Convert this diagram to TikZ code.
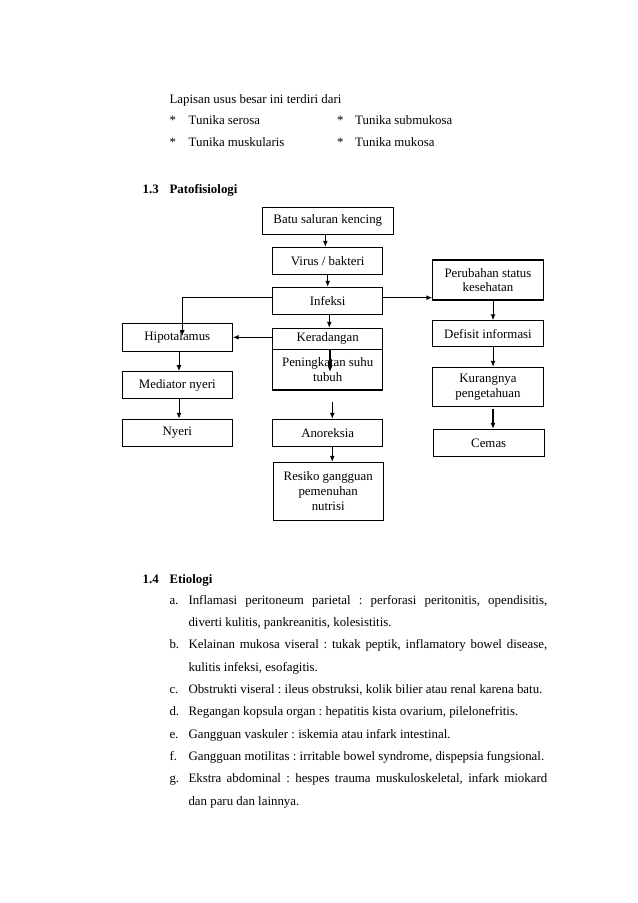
\documentclass[tikz,border=0pt]{standalone}
\usepackage{fontspec}
\setmainfont{Liberation Serif}
\usetikzlibrary{arrows.meta}
\frenchspacing
\begin{document}
\begin{tikzpicture}[x=0.9323pt,y=-0.9323pt,
  font=\fontsize{12}{13.8}\selectfont\frenchspacing,
  box/.style={draw, line width=0.95pt, inner sep=0pt, align=center, minimum width=102.6pt},
  arr/.style={-{Latex[length=5.5pt,width=4.5pt]}, line width=0.95pt},
  txt/.style={anchor=base west, inner sep=0pt},
  hd/.style={anchor=base west, inner sep=0pt, font=\fontsize{12}{13.8}\selectfont\bfseries}]
\useasboundingbox (0,0) rectangle (638,903);
% intro text
\node[txt] (l1) at (169.3,103.5) {Lapisan usus besar ini terdiri dari};
\node[txt] (s1) at (169.5,124.5) {*};
\node[txt] (t1) at (188.5,124.5) {Tunika serosa};
\node[txt] (s2) at (337,124.5) {*};
\node[txt] (t2) at (355,124.5) {Tunika submukosa};
\node[txt] (s3) at (169.5,146.5) {*};
\node[txt] (t3) at (188.5,146.5) {Tunika muskularis};
\node[txt] (s4) at (337,146.5) {*};
\node[txt] (t4) at (355,146.5) {Tunika mukosa};
\node[hd] (h13) at (142.5,193.5) {1.3};
\node[hd] (h13t) at (169.3,193.5) {Patofisiologi};
% flowchart boxes
\node[box, minimum width=122.1pt, minimum height=25.5pt] (batu) at (327.8,220.7) {Batu saluran kencing};
\node[box, minimum height=24.9pt] (virus) at (327.7,260.7) {Virus / bakteri};
\node[box, minimum height=24.9pt] (infeksi) at (327.7,300.7) {Infeksi};
\node[box, minimum height=19.3pt] (kerad) at (327.7,338.7) {Keradangan};
\node[box, minimum height=38.2pt] (pening) at (327.7,369.5) {Peningkatan suhu\\tubuh};
\node[box, minimum height=25.5pt] (anor) at (327.7,433) {Anoreksia};
\node[box, minimum width=102.8pt, minimum height=53.8pt] (resiko) at (328.2,491.2) {Resiko gangguan\\pemenuhan\\nutrisi};
\node[box, minimum height=25.2pt] (hipo) at (177.3,337.5) {Hipotalamus};
\node[box, minimum height=25.5pt] (mediator) at (177.3,385.3) {Mediator nyeri};
\node[box, minimum height=25.5pt] (nyeri) at (177.3,433) {Nyeri};
\node[box, minimum width=103.1pt, minimum height=37.3pt] (perubahan) at (488,280) {Perubahan status\\kesehatan};
\node[box, minimum width=103.1pt, minimum height=24.2pt] (defisit) at (488,333.7) {Defisit informasi};
\node[box, minimum width=103.1pt, minimum height=36.7pt] (kurang) at (488,387) {Kurangnya\\pengetahuan};
\node[box, minimum width=103.2pt, minimum height=25.5pt] (cemas) at (488.7,443) {Cemas};
% free ends
\coordinate (kt) at (330,372);
\coordinate (as) at (332.3,401.7);
\coordinate (cs) at (493,409.3);
\coordinate (ht) at (182.3,336);
% connectors
\draw[arr] ([xshift=-2.3pt]batu.south) -- ([xshift=-2.3pt]batu.south |- virus.north);
\draw[arr] (virus.south) -- (infeksi.north);
\draw[arr] ([xshift=1.5pt]infeksi.south) -- ([xshift=1.5pt]infeksi.south |- kerad.north);
\draw[arr] ([yshift=2.8pt]infeksi.west) -| (ht);
\draw[arr] ([yshift=2.8pt]infeksi.east) -- ([yshift=2.8pt]infeksi.east -| perubahan.west);
\draw[arr] ([yshift=1.3pt]kerad.west) -- ([yshift=1.3pt]kerad.west -| hipo.east);
\draw[arr] (kerad.south -| kt) -- (kt);
\draw[arr] (as) -- (as |- anor.north);
\draw[arr] (anor.south -| as) -- (resiko.north -| as);
\draw[arr] ([xshift=1.6pt]hipo.south) -- ([xshift=1.6pt]mediator.north);
\draw[arr] ([xshift=1.6pt]mediator.south) -- ([xshift=1.6pt]nyeri.north);
\draw[arr] ([xshift=4.7pt]perubahan.south) -- ([xshift=4.7pt]perubahan.south |- defisit.north);
\draw[arr] ([xshift=4.7pt]defisit.south) -- ([xshift=4.7pt]defisit.south |- kurang.north);
\draw[arr] (cs) -- (cs |- cemas.north);
% etiologi
\node[hd] (h14) at (142.5,583.3) {1.4};
\node[hd] (h14t) at (169.3,583.3) {Etiologi};
\node[txt] (la) at (169.3,604.3) {a.};
\node[txt] (ia) at (188.3,604.3) {\makebox[334.4pt][s]{Inflamasi peritoneum parietal : perforasi peritonitis, opendisitis,}};
\node[txt] (ia2) at (188.3,626.6) {diverti kulitis, pankreanitis, kolesistitis.};
\node[txt] (lb) at (169.3,648.9) {b.};
\node[txt] (ib) at (188.3,648.9) {\makebox[334.4pt][s]{Kelainan mukosa viseral : tukak peptik, inflamatory bowel disease,}};
\node[txt] (ib2) at (188.3,671.2) {kulitis infeksi, esofagitis.};
\node[txt] (lc) at (169.3,693.5) {c.};
\node[txt] (ic) at (188.3,693.5) {Obstrukti viseral : ileus obstruksi, kolik bilier atau renal karena batu.};
\node[txt] (ld) at (169.3,715.8) {d.};
\node[txt] (id) at (188.3,715.8) {Regangan kopsula organ : hepatitis kista ovarium, pilelonefritis.};
\node[txt] (le) at (169.3,738.1) {e.};
\node[txt] (ie) at (188.3,738.1) {Gangguan vaskuler : iskemia atau infark intestinal.};
\node[txt] (lf) at (169.3,760.4) {f.};
\node[txt] (if) at (188.3,760.4) {Gangguan motilitas : irritable bowel syndrome, dispepsia fungsional.};
\node[txt] (lg) at (169.3,782.7) {g.};
\node[txt] (ig) at (188.3,782.7) {\makebox[334.4pt][s]{Ekstra abdominal : hespes trauma muskuloskeletal, infark miokard}};
\node[txt] (ig2) at (188.3,805) {dan paru dan lainnya.};
\end{tikzpicture}
\end{document}
